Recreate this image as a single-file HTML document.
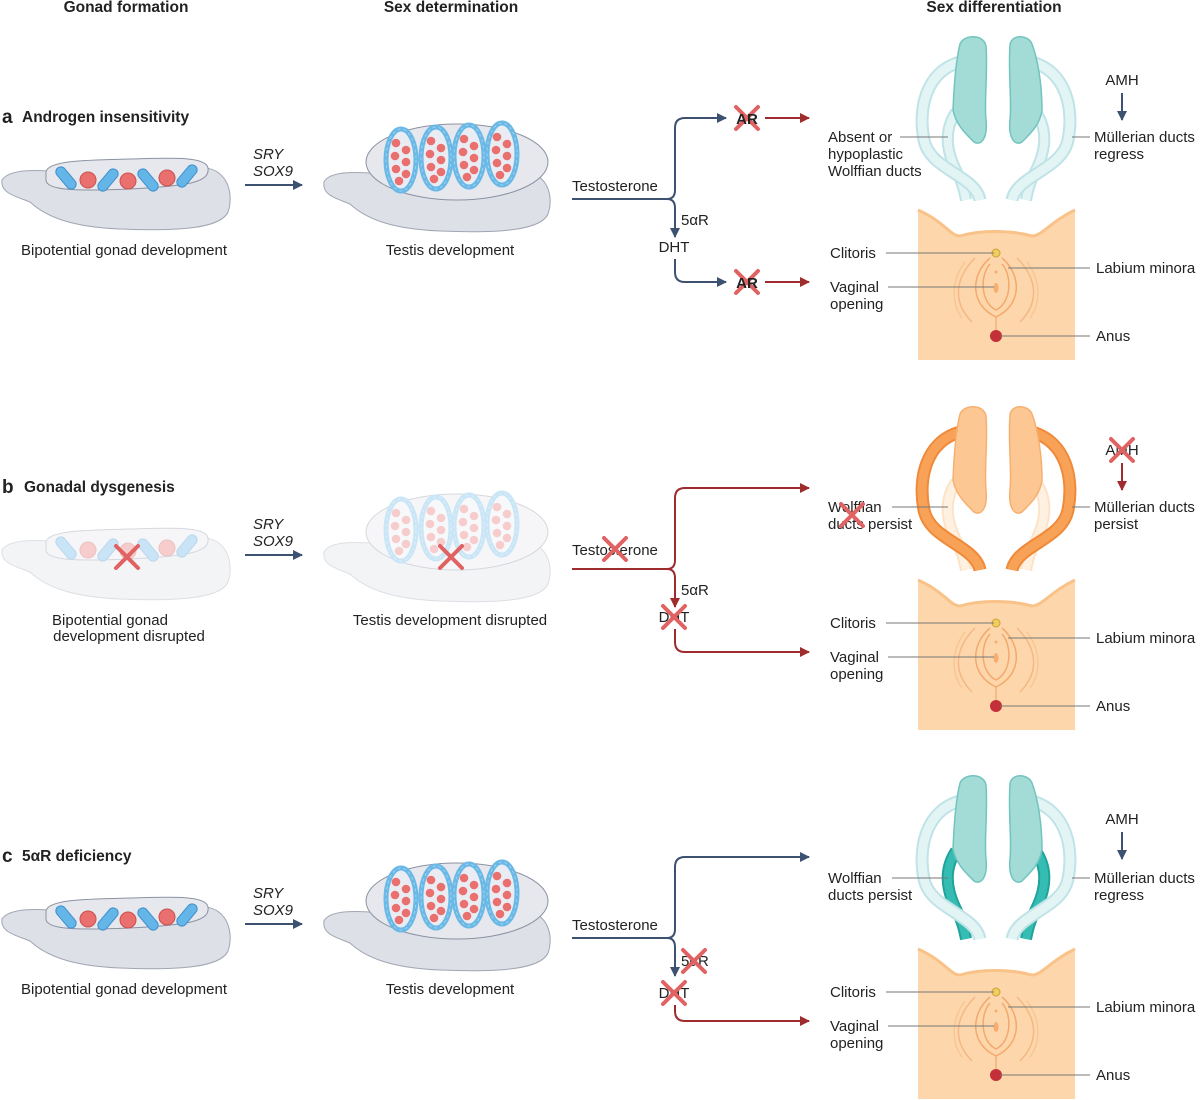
<!DOCTYPE html>
<html><head><meta charset="utf-8"><style>
html,body{margin:0;padding:0;background:#fff;}
svg{display:block;font-family:"Liberation Sans",sans-serif;}
.t{font-size:15px;fill:#222;}
.h{font-size:15.5px;font-weight:bold;fill:#222;}
.i{font-style:italic;}
</style></head><body>
<svg width="1200" height="1100" viewBox="0 0 1200 1100" xmlns="http://www.w3.org/2000/svg">
<defs>
 <marker id="an" viewBox="0 0 10 10" refX="9" refY="5" markerWidth="5" markerHeight="5" orient="auto"><path d="M0,0L10,5L0,10Z" fill="#3d5170"/></marker>
 <marker id="ar" viewBox="0 0 10 10" refX="9" refY="5" markerWidth="5" markerHeight="5" orient="auto"><path d="M0,0L10,5L0,10Z" fill="#9e2b2e"/></marker>
 <g id="x"><path d="M-11,-11L11,11M11,-11L-11,11" stroke="#e06262" stroke-width="4" stroke-linecap="round"/></g>
 <g id="cap"><rect x="-5" y="-13" width="10" height="26" rx="5" fill="#64b5e8" stroke="#3f8fcc" stroke-width="1"/></g>
 <g id="cell"><circle r="8" fill="#ea6f6f" stroke="#c9524f" stroke-width="1"/></g>
 <g id="bip">
  <path d="M2,180 C10,168 40,170 62,172 L205,168 C228,170 234,195 228,212 C220,230 170,231 120,229 C70,227 45,216 30,202 C15,196 0,193 2,180Z" fill="#dde0e7" stroke="#a0a6b3"/>
  <path d="M46,172 C48,160 90,160 130,159 C170,158 206,156 208,168 C210,182 190,186 130,189 C80,191 46,191 46,180Z" fill="#e6e8ee" stroke="#8b92a2"/>
  <use href="#cap" transform="translate(66,178) rotate(-40)"/>
  <use href="#cell" x="88" y="180"/>
  <use href="#cap" transform="translate(108,180) rotate(40)"/>
  <use href="#cell" x="128" y="181"/>
  <use href="#cap" transform="translate(148,180) rotate(-40)"/>
  <use href="#cell" x="167" y="178"/>
  <use href="#cap" transform="translate(187,176) rotate(40)"/>
 </g>
 <g id="tub"><ellipse rx="15" ry="31" fill="#e9ecf2" stroke="#6ab8e6" stroke-width="5"/>
  <ellipse rx="15" ry="31" fill="none" stroke="#9fd2f0" stroke-width="1" stroke-dasharray="3 3"/>
  <circle cx="-5" cy="-17" r="4.3" fill="#ea6f6f"/><circle cx="5" cy="-10" r="4.3" fill="#ea6f6f"/><circle cx="-6" cy="-4" r="4.3" fill="#ea6f6f"/><circle cx="5" cy="2" r="4.3" fill="#ea6f6f"/><circle cx="-5" cy="9" r="4.3" fill="#ea6f6f"/><circle cx="5" cy="14" r="4.3" fill="#ea6f6f"/><circle cx="-2" cy="21" r="4.3" fill="#ea6f6f"/></g>
 <g id="testis">
  <path d="M324,182 C330,170 360,172 382,174 L525,172 C548,174 554,197 548,214 C540,232 490,233 440,231 C390,229 365,218 350,204 C335,198 322,195 324,182Z" fill="#dde0e7" stroke="#a0a6b3"/>
  <ellipse cx="457" cy="162" rx="91" ry="38" fill="#e6e8ee" stroke="#8b92a2"/>
  <use href="#tub" x="401" y="160"/><use href="#tub" x="436" y="158"/><use href="#tub" x="469" y="156"/><use href="#tub" x="502" y="154"/>
 </g>
 <g id="ducts">
  <path d="M956,112 C944,130 946,150 956,170 C962,182 964,190 966,200" fill="none" stroke="var(--wo)" stroke-width="12"/>
  <path d="M956,112 C944,130 946,150 956,170 C962,182 964,190 966,200" fill="none" stroke="var(--wf)" stroke-width="8"/>
  <path d="M1036,112 C1048,130 1046,150 1036,170 C1030,182 1028,190 1026,200" fill="none" stroke="var(--wo)" stroke-width="12"/>
  <path d="M1036,112 C1048,130 1046,150 1036,170 C1030,182 1028,190 1026,200" fill="none" stroke="var(--wf)" stroke-width="8"/>
  <path d="M960,62 C925,72 918,110 924,140 C930,170 975,175 980,200" fill="none" stroke="var(--mo)" stroke-width="13"/>
  <path d="M960,62 C925,72 918,110 924,140 C930,170 975,175 980,200" fill="none" stroke="var(--mf)" stroke-width="9"/>
  <path d="M1032,62 C1067,72 1074,110 1068,140 C1062,170 1017,175 1012,200" fill="none" stroke="var(--mo)" stroke-width="13"/>
  <path d="M1032,62 C1067,72 1074,110 1068,140 C1062,170 1017,175 1012,200" fill="none" stroke="var(--mf)" stroke-width="9"/>
  <path d="M960,44 C964,34 984,34 986,46 C988,72 984,100 986,120 C988,140 980,146 974,142 C966,134 956,125 953,110 C954,85 956,60 960,44Z" fill="var(--g)" stroke="var(--gs)" stroke-width="1.5"/>
  <path d="M1032,44 C1028,34 1010,34 1010,46 C1008,72 1012,100 1010,120 C1008,140 1016,146 1022,142 C1030,134 1040,125 1042,110 C1042,85 1038,60 1032,44Z" fill="var(--g)" stroke="var(--gs)" stroke-width="1.5"/>
 </g>
 <g id="gen">
  <path d="M918,210 C945,222 950,236 960,236 C980,230 1010,230 1032,236 C1042,236 1050,222 1075,210 L1075,360 L918,360Z" fill="#fdd7ab"/>
  <path d="M918,210 C945,222 950,236 960,236 C980,230 1010,230 1032,236 C1042,236 1050,222 1075,210" fill="none" stroke="#f9c288" stroke-width="3"/>
  <path d="M975,258 C955,278 952,302 972,322 M1017,258 C1037,278 1040,302 1020,322" fill="none" stroke="#f5b885" stroke-width="1.5"/>
  <path d="M965,262 C950,282 952,305 962,318 M1027,262 C1042,282 1040,305 1030,318" fill="none" stroke="#f7c796" stroke-width="1.5"/>
  <path d="M990,258 C970,275 970,305 996,317 C1022,305 1022,275 1002,258" fill="none" stroke="#f3a86c" stroke-width="1.5"/>
  <path d="M990,264 C980,275 980,302 996,310 C1012,302 1012,275 1002,264" fill="none" stroke="#f3a86c" stroke-width="1.5"/>
  <line x1="996" y1="317" x2="996" y2="332" stroke="#f0a868" stroke-width="1.2"/>
  <ellipse cx="996" cy="288" rx="2.5" ry="5" fill="#f6ad6d"/>
  <circle cx="996" cy="272" r="1.5" fill="#f6ad6d"/>
  <circle cx="996" cy="253" r="4" fill="#f2cd5c" stroke="#c9a23c"/>
  <circle cx="996" cy="336" r="6" fill="#c3303a"/>
 </g>
 <g id="genlab" stroke="#777" stroke-width="1">
  <line x1="886" y1="253" x2="994" y2="253"/><line x1="888" y1="287" x2="994" y2="287"/><line x1="1008" y1="268" x2="1090" y2="268"/><line x1="1000" y1="336" x2="1090" y2="336"/>
 </g>
</defs>

<text class="h" x="126" y="12" text-anchor="middle">Gonad formation</text>
<text class="h" x="451" y="12" text-anchor="middle">Sex determination</text>
<text class="h" x="994" y="12" text-anchor="middle">Sex differentiation</text>

<!-- ===== A ===== -->
<text class="h" x="2" y="123" style="font-size:19px">a</text><text class="h" x="22" y="122">Androgen insensitivity</text>
<use href="#bip"/>
<text class="t" x="124" y="255" text-anchor="middle">Bipotential gonad development</text>
<text class="t i" x="253" y="159">SRY</text><text class="t i" x="253" y="176">SOX9</text>
<line x1="245" y1="185" x2="302" y2="185" stroke="#3d5170" stroke-width="2" marker-end="url(#an)"/>
<use href="#testis"/>
<text class="t" x="450" y="255" text-anchor="middle">Testis development</text>
<text class="t" x="572" y="191">Testosterone</text>
<path d="M572,199 H667 Q675,199 675,190 V128 Q675,118 685,118 H726" fill="none" stroke="#3d5170" stroke-width="2" marker-end="url(#an)"/>
<path d="M667,199 Q675,199 675,208 V237" fill="none" stroke="#3d5170" stroke-width="2" marker-end="url(#an)"/>
<text class="t" x="681" y="225">5αR</text>
<text class="t" x="674" y="252" text-anchor="middle">DHT</text>
<path d="M675,259 V272 Q675,282 685,282 H726" fill="none" stroke="#3d5170" stroke-width="2" marker-end="url(#an)"/>
<use href="#x" x="747" y="118"/><text class="t" x="747" y="124" text-anchor="middle" font-weight="bold">AR</text>
<use href="#x" x="747" y="282"/><text class="t" x="747" y="288" text-anchor="middle" font-weight="bold">AR</text>
<line x1="765" y1="118" x2="809" y2="118" stroke="#9e2b2e" stroke-width="2" marker-end="url(#ar)"/>
<line x1="765" y1="282" x2="809" y2="282" stroke="#9e2b2e" stroke-width="2" marker-end="url(#ar)"/>
<use href="#ducts" style="--wo:#bfe3e6;--wf:#e3f4f5;--mo:#bfe3e6;--mf:#e3f4f5;--g:#a3dbd7;--gs:#72c4be"/>
<use href="#gen"/><use href="#genlab"/>
<text class="t" x="828" y="142">Absent or</text><text class="t" x="828" y="159">hypoplastic</text><text class="t" x="828" y="176">Wolffian ducts</text>
<line x1="900" y1="137" x2="948" y2="137" stroke="#777"/>
<text class="t" x="1122" y="85" text-anchor="middle">AMH</text>
<line x1="1122" y1="93" x2="1122" y2="120" stroke="#3d5170" stroke-width="2" marker-end="url(#an)"/>
<line x1="1072" y1="137" x2="1090" y2="137" stroke="#777"/>
<text class="t" x="1094" y="142">Müllerian ducts</text><text class="t" x="1094" y="159">regress</text>
<text class="t" x="830" y="258">Clitoris</text><text class="t" x="830" y="292">Vaginal</text><text class="t" x="830" y="309">opening</text>
<text class="t" x="1096" y="273">Labium minora</text><text class="t" x="1096" y="341">Anus</text>

<!-- ===== B ===== -->
<g transform="translate(0,370)">
<text class="h" x="2" y="123" style="font-size:19px">b</text><text class="h" x="24" y="122">Gonadal dysgenesis</text>
<g opacity="0.35"><use href="#bip"/></g>
<use href="#x" x="127" y="187"/>
<text class="t" x="110" y="255" text-anchor="middle">Bipotential gonad</text><text class="t" x="129" y="271" text-anchor="middle">development disrupted</text>
<text class="t i" x="253" y="159">SRY</text><text class="t i" x="253" y="176">SOX9</text>
<line x1="245" y1="185" x2="302" y2="185" stroke="#3d5170" stroke-width="2" marker-end="url(#an)"/>
<g opacity="0.35"><use href="#testis"/></g>
<use href="#x" x="451" y="187"/>
<text class="t" x="450" y="255" text-anchor="middle">Testis development disrupted</text>
<text class="t" x="572" y="185">Testosterone</text><use href="#x" x="615" y="179"/>
<path d="M572,199 H667 Q675,199 675,190 V128 Q675,118 685,118 H809" fill="none" stroke="#9e2b2e" stroke-width="2" marker-end="url(#ar)"/>
<path d="M667,199 Q675,199 675,208 V237" fill="none" stroke="#9e2b2e" stroke-width="2" marker-end="url(#ar)"/>
<text class="t" x="681" y="225">5αR</text>
<text class="t" x="674" y="252" text-anchor="middle">DHT</text><use href="#x" x="674" y="247"/>
<path d="M675,259 V272 Q675,282 685,282 H809" fill="none" stroke="#9e2b2e" stroke-width="2" marker-end="url(#ar)"/>
<use href="#ducts" style="--wo:#fde3c6;--wf:#fff1e2;--mo:#f08a3a;--mf:#f7a257;--g:#fdc794;--gs:#f5b070"/>
<use href="#gen"/><use href="#genlab"/>
<text class="t" x="828" y="142">Wolffian</text><text class="t" x="828" y="159">ducts persist</text><use href="#x" x="852" y="145"/>
<line x1="892" y1="137" x2="948" y2="137" stroke="#777"/>
<text class="t" x="1122" y="85" text-anchor="middle">AMH</text><use href="#x" x="1122" y="80"/>
<line x1="1122" y1="93" x2="1122" y2="120" stroke="#9e2b2e" stroke-width="2" marker-end="url(#ar)"/>
<line x1="1072" y1="137" x2="1090" y2="137" stroke="#777"/>
<text class="t" x="1094" y="142">Müllerian ducts</text><text class="t" x="1094" y="159">persist</text>
<text class="t" x="830" y="258">Clitoris</text><text class="t" x="830" y="292">Vaginal</text><text class="t" x="830" y="309">opening</text>
<text class="t" x="1096" y="273">Labium minora</text><text class="t" x="1096" y="341">Anus</text>
</g>

<!-- ===== C ===== -->
<g transform="translate(0,739)">
<text class="h" x="2" y="123" style="font-size:19px">c</text><text class="h" x="22" y="122">5αR deficiency</text>
<use href="#bip"/>
<text class="t" x="124" y="255" text-anchor="middle">Bipotential gonad development</text>
<text class="t i" x="253" y="159">SRY</text><text class="t i" x="253" y="176">SOX9</text>
<line x1="245" y1="185" x2="302" y2="185" stroke="#3d5170" stroke-width="2" marker-end="url(#an)"/>
<use href="#testis"/>
<text class="t" x="450" y="255" text-anchor="middle">Testis development</text>
<text class="t" x="572" y="191">Testosterone</text>
<path d="M572,199 H667 Q675,199 675,190 V128 Q675,118 685,118 H809" fill="none" stroke="#3d5170" stroke-width="2" marker-end="url(#an)"/>
<path d="M667,199 Q675,199 675,208 V237" fill="none" stroke="#3d5170" stroke-width="2" marker-end="url(#an)"/>
<text class="t" x="681" y="227">5αR</text><use href="#x" x="694" y="222"/>
<text class="t" x="674" y="259" text-anchor="middle">DHT</text><use href="#x" x="674" y="254"/>
<path d="M675,266 V272 Q675,282 685,282 H809" fill="none" stroke="#9e2b2e" stroke-width="2" marker-end="url(#ar)"/>
<use href="#ducts" style="--wo:#1fa39b;--wf:#35bdb4;--mo:#bfe3e6;--mf:#e3f4f5;--g:#a3dbd7;--gs:#72c4be"/>
<use href="#gen"/><use href="#genlab"/>
<text class="t" x="828" y="144">Wolffian</text><text class="t" x="828" y="161">ducts persist</text>
<line x1="892" y1="139" x2="948" y2="139" stroke="#777"/>
<text class="t" x="1122" y="85" text-anchor="middle">AMH</text>
<line x1="1122" y1="93" x2="1122" y2="120" stroke="#3d5170" stroke-width="2" marker-end="url(#an)"/>
<line x1="1072" y1="139" x2="1090" y2="139" stroke="#777"/>
<text class="t" x="1094" y="144">Müllerian ducts</text><text class="t" x="1094" y="161">regress</text>
<text class="t" x="830" y="258">Clitoris</text><text class="t" x="830" y="292">Vaginal</text><text class="t" x="830" y="309">opening</text>
<text class="t" x="1096" y="273">Labium minora</text><text class="t" x="1096" y="341">Anus</text>
</g>
</svg>
</body></html>
